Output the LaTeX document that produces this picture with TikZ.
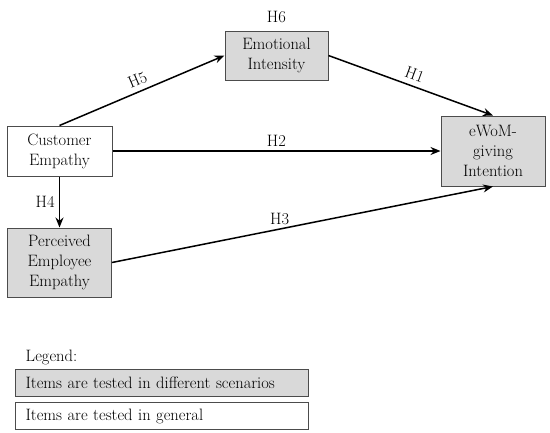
\documentclass[tikz,border=0pt]{standalone}
\usetikzlibrary{positioning, arrows.meta}
\begin{document}
\begin{tikzpicture}[
    x=1pt, y=-1pt,
    construct/.style={rectangle, draw=gray!60!black, line width=1pt, align=center,
      inner sep=0pt, font=\fontsize{16.5}{20}\selectfont},
    tested/.style={construct, fill=gray!30},
    general/.style={construct, fill=white},
    legendbox/.style={construct, minimum width=293pt, minimum height=27pt,
      text width=273pt, inner xsep=10pt, align=left},
    hyp/.style={font=\fontsize{16.5}{20}\selectfont, inner sep=4pt},
    >={Stealth[length=10pt, width=8pt]}, line width=1.5pt
  ]
  \useasboundingbox (0,0) rectangle (550,432);
  \node[tested, minimum width=103pt, minimum height=49pt] (emo) at (276.5,55.5) {Emotional\\Intensity};
  \node[general, minimum width=105pt, minimum height=50pt] (cust) at (59.5,151) {Customer\\Empathy};
  \node[tested, minimum width=104pt, minimum height=70pt] (ewom) at (493,151) {eWoM-\\giving\\Intention};
  \node[tested, minimum width=104pt, minimum height=69pt] (pee) at (59.5,262.5) {Perceived\\Employee\\Empathy};
  \node[hyp, above=3pt of emo] (h6) {H6};
  \draw[->] (cust.north) -- node[hyp, sloped, above, inner sep=5pt] {H5} (emo.west);
  \draw[->] (emo.east) -- node[hyp, sloped, above, inner sep=5pt] {H1} (ewom.north);
  \draw[->] (cust.east) -- node[hyp, above] {H2} (ewom.west);
  \draw[->] (cust.south) -- node[hyp, left] {H4} (pee.north);
  \draw[->] (pee.east) -- node[hyp, above, pos=0.44] {H3} (ewom.south);
  % legend
  \node[hyp, anchor=west, inner sep=0pt] (legend) at (25,357) {Legend:};
  \node[legendbox, fill=gray!30, anchor=west] (leg1) at (15,382.5) {Items are tested in different scenarios};
  \node[legendbox, fill=white, anchor=west] (leg2) at (15,416) {Items are tested in general};
\end{tikzpicture}
\end{document}
